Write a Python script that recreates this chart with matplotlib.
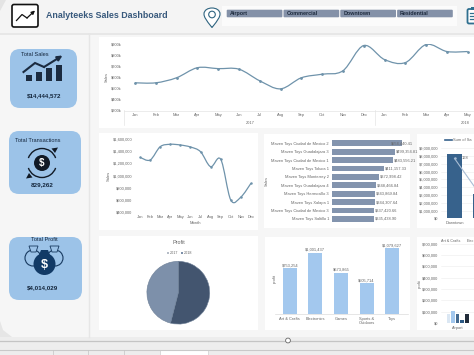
import matplotlib
matplotlib.use('Agg')
import matplotlib.pyplot as plt
from matplotlib.patches import FancyBboxPatch, Rectangle, Circle, Polygon, Arc, PathPatch
from matplotlib.path import Path

W, H = 474, 355
plt.rcParams['font.family'] = ['Liberation Sans', 'DejaVu Sans']

# data
months = ['Jan', 'Feb', 'Mar', 'Apr', 'May', 'Jun', 'Jul', 'Aug', 'Sep', 'Oct', 'Nov', 'Dec']
sales_2017 = [548, 548, 593, 683, 675, 670, 566, 494, 593, 625, 656, 882]
sales_2018 = [756, 729, 891, 828, 828]
sales_ticks = [300, 400, 500, 600, 700, 800, 900]
month_sales = [1300000, 1256000, 1474000, 1513000, 1502000, 1469000, 1392000, 1147000, 1268000, 600000, 650000, 875000]
month_ticks = [400000, 600000, 800000, 1000000, 1200000, 1400000, 1600000]
store_names = ['Maven Toys Ciudad de Mexico 2', 'Maven Toys Guadalajara 3', 'Maven Toys Ciudad de Mexico 1',
               'Maven Toys Toluca 1', 'Maven Toys Monterrey 2', 'Maven Toys Guadalajara 4',
               'Maven Toys Hermosillo 3', 'Maven Toys Xalapa 1', 'Maven Toys Ciudad de Mexico 3', 'Maven Toys Saltillo 1']
store_sales = [554440.41, 499354.81, 483556.21, 411157.33, 372998.42, 348466.84, 343869.84, 344307.64, 337420.66, 335438.90]
location_names = ['Downtown', 'Commercial']
location_sales = [8260000, 3100000]
location_line = [7700000, 3050000]
location_ticks = list(range(0, 9000001, 1000000))
profit_share = [54, 46]
profit_years = ['2017', '2018']
categories = ['Art & Crafts', 'Electronics', 'Games', 'Sports &\nOutdoors', 'Toys']
cat_profit = [753254, 1001437, 673865, 505714, 1079627]
small_bars = [82000, 103000, 76000, 24000, 76000]
small_ticks = [0, 100000, 200000, 300000, 400000, 500000, 600000, 700000]
filters = ['Airport', 'Commercial', 'Downtown', 'Residential']
kpi_titles = ['Total Sales', 'Total Transactions', 'Total Profit']
kpi_values = ['$14,444,572', '829,262', '$4,014,029']

line_col = '#6f93ab'
slate = '#8394ae'
soft_blue = '#a3c8ee'
grey_txt = '#666666'
dark_txt = '#14263c'

fig = plt.figure(figsize=(W / 100, H / 100), dpi=100, facecolor='#f6f6f6')

# whole figure in pixel coords for the furniture
bg = fig.add_axes([0, 0, 1, 1])
bg.set_xlim(0, W)
bg.set_ylim(H, 0)
bg.axis('off')


def panel(x0, y0, x1, y1):
    bg.add_patch(Rectangle((x0, y0), x1 - x0, y1 - y0, fc='white', ec='none'))


def pix_axes(x0, y0, x1, y1):
    ax = fig.add_axes([x0 / W, 1 - y1 / H, (x1 - x0) / W, (y1 - y0) / H])
    ax.patch.set_alpha(0)
    for s in ax.spines.values():
        s.set_visible(False)
    ax.tick_params(length=0, labelsize=2.9, colors=grey_txt, pad=2)
    return ax


def smooth(ax, xs, ys, **kw):
    # excel style smoothed line: bezier through the read values
    verts = [(xs[0], ys[0])]
    codes = [Path.MOVETO]
    n = len(xs)
    for i in range(n - 1):
        p0 = (xs[max(i - 1, 0)], ys[max(i - 1, 0)])
        p1 = (xs[i], ys[i])
        p2 = (xs[i + 1], ys[i + 1])
        p3 = (xs[min(i + 2, n - 1)], ys[min(i + 2, n - 1)])
        verts.append((p1[0] + (p2[0] - p0[0]) / 6, p1[1] + (p2[1] - p0[1]) / 6))
        verts.append((p2[0] - (p3[0] - p1[0]) / 6, p2[1] - (p3[1] - p1[1]) / 6))
        verts.append(p2)
        codes += [Path.CURVE4] * 3
    ax.add_patch(PathPatch(Path(verts, codes), fc='none', **kw))


def zigzag(pts, col, lw, head):
    # icon arrow: polyline plus a triangular tip
    bg.plot([p[0] for p in pts[:-1]], [p[1] for p in pts[:-1]], color=col, lw=lw, solid_joinstyle='miter')
    bg.annotate('', xy=pts[-1], xytext=pts[-2], arrowprops=dict(arrowstyle='-|>', color=col, lw=lw, shrinkA=0,
                shrinkB=0, mutation_scale=head))


# header
bg.add_patch(Rectangle((0, 0), W, 33, fc='#f4f4f4', ec='none'))
bg.add_patch(Polygon([(0, 0), (6, 0), (0, 11)], fc='#e4e4e4', ec='none'))
bg.plot([0, W], [33.5, 33.5], color='#e4e4e4', lw=1.2)
bg.plot([89.5, 89.5], [34, 337], color='#e6e6e6', lw=1)
bg.add_patch(FancyBboxPatch((12, 4.5), 26, 22.5, boxstyle='round,pad=0,rounding_size=2', fc='white', ec='#111111', lw=1.2))
zigzag([(16.5, 20.5), (22, 14.5), (27, 18), (35, 10.5)], '#111111', 0.9, 5)
bg.text(46.5, 16, 'Analyteeks Sales Dashboard', fontsize=6.4, fontweight='bold', color='#38597c', va='center')

# location pin
pin_verts = [(212, 27.5), (206, 20), (204, 17), (204, 14), (204, 10), (208, 8), (212, 8), (216, 8), (220, 10), (220, 14),
             (220, 17), (218, 20), (212, 27.5)]
pin_codes = [Path.MOVETO] + [Path.CURVE4] * 12
bg.add_patch(PathPatch(Path(pin_verts, pin_codes), fc='white', ec='#2f6480', lw=0.8))
bg.add_patch(Circle((212, 14.5), 3.3, fc='white', ec='#2f6480', lw=0.8))

# slicer
bg.add_patch(Rectangle((222, 6), 235, 20, fc='#fbfbfb', ec='none'))
for i, name in enumerate(filters):
    x0 = 226.7 + i * 56.8
    bg.add_patch(FancyBboxPatch((x0, 9.7), 55.7, 7.6, boxstyle='round,pad=0,rounding_size=1', fc='#8491a8', ec='none'))
    bg.text(x0 + 3, 13.5, name, fontsize=3.9, fontweight='bold', color='#1d2a3d', va='center')

# clipboard icon at the right edge
bg.add_patch(FancyBboxPatch((467.5, 9), 12, 14.5, boxstyle='round,pad=0,rounding_size=1.5', fc='white', ec='#2f6f8f', lw=1.3))
bg.add_patch(Rectangle((471, 6.5), 6, 3, fc='#2f6f8f', ec='none'))
for ly in [13, 16, 19]:
    bg.plot([470, 474], [ly, ly], color='#2f6f8f', lw=0.9)

# kpi cards
card_boxes = [(10, 49, 77, 108), (9, 131, 81, 194), (9, 237, 82, 300)]
title_pos = [(35, 54), (37.5, 141), (44, 239.5)]
value_pos = [(44, 96), (42, 185), (43, 288)]
for box, title, tp, value, vp in zip(card_boxes, kpi_titles, title_pos, kpi_values, value_pos):
    bg.add_patch(FancyBboxPatch((box[0], box[1]), box[2] - box[0], box[3] - box[1],
                                boxstyle='round,pad=0,rounding_size=10', fc='#9cc3e8', ec='none'))
    bg.text(vp[0], vp[1], value, fontsize=4.5, fontweight='bold', color=dark_txt, ha='center', va='center')

# card 1 icon
for bx, bw, top in zip([26, 36, 46, 56], [6, 6, 6, 6], [75, 72, 68, 65]):
    bg.add_patch(Rectangle((bx, top), bw, 81 - top, fc='#1b2b40', ec='none'))
zigzag([(23.5, 72), (35, 63), (44, 67), (62.5, 55.5)], '#1b2b40', 1.5, 7)

# card 2 icon
bg.add_patch(Circle((42, 163), 8, fc='#111a26', ec='none'))
bg.add_patch(Arc((42, 163), 29, 29, theta1=200, theta2=340, color='#111a26', lw=1))
bg.add_patch(Arc((42, 163), 29, 29, theta1=20, theta2=160, color='#111a26', lw=1))
bg.add_patch(Polygon([(55, 153), (58, 147.5), (51.5, 148.5)], fc='#111a26', ec='none'))
bg.add_patch(Polygon([(29, 173), (26, 178.5), (32.5, 177.5)], fc='#111a26', ec='none'))
bg.text(42, 163, '$', fontsize=7, fontweight='bold', color='white', ha='center', va='center')

# card 3 icon
bg.add_patch(Circle((33, 258), 8, fc='none', ec='#17395f', lw=0.8))
bg.add_patch(Circle((55, 258), 8, fc='none', ec='#17395f', lw=0.8))
bg.add_patch(Polygon([(29, 246), (38, 246), (36, 252), (31, 252)], fc='#9cc3e8', ec='#17395f', lw=0.6))
bg.add_patch(Polygon([(50, 246), (59, 246), (57, 252), (52, 252)], fc='#9cc3e8', ec='#17395f', lw=0.6))
bg.add_patch(Circle((44.5, 264), 11, fc='#123a66', ec='none'))
bg.add_patch(Polygon([(39, 255), (50, 255), (48, 250), (41, 250)], fc='#123a66', ec='none'))
bg.text(44.5, 265, '$', fontsize=9, fontweight='bold', color='white', ha='center', va='center')

# card titles go over the icons
for title, tp in zip(kpi_titles, title_pos):
    bg.text(tp[0], tp[1], title, fontsize=4.1, color=dark_txt, ha='center', va='center', zorder=6)

# panels
panel(99, 37, W, 128)
panel(99, 133, 258, 230)
panel(264, 134, 410, 228)
panel(417, 134, W, 228)
panel(99, 236, 258, 330)
panel(265, 236.5, 410, 329.5)
panel(417, 236.5, W, 329.5)

# top line chart
ax = pix_axes(124.5, 43.5, W, 110.5)
all_sales = sales_2017 + sales_2018
xs = list(range(len(all_sales)))
ax.set_xlim(-0.5, 16.3)
ax.set_ylim(300, 900)
smooth(ax, xs, all_sales, ec=line_col, lw=0.9)
ax.plot(xs, all_sales, ls='none', marker='o', ms=1.0, color=line_col)
ax.set_yticks(sales_ticks)
ax.set_yticklabels(['${}k'.format(v) for v in sales_ticks])
ax.set_xticks(xs)
ax.set_xticklabels((months + months)[:len(xs)])
ax.set_ylabel('Sales', fontsize=2.9, color=grey_txt, labelpad=1.5)
bg.plot([124.5, W], [110.5, 110.5], color='#e4e4e4', lw=0.5)
bg.plot([124.5, 124.5], [110, 125], color='#e4e4e4', lw=0.5)
bg.plot([375, 375], [110, 125], color='#e4e4e4', lw=0.5)
bg.text(250, 123, '2017', fontsize=2.9, color=grey_txt, ha='center', va='center')
bg.text(465, 123, '2018', fontsize=2.9, color=grey_txt, ha='center', va='center')

# month line chart
ax = pix_axes(135, 139, 256, 212.3)
xs = list(range(12))
ax.set_xlim(-0.5, 11.5)
ax.set_ylim(400000, 1600000)
smooth(ax, xs, month_sales, ec=line_col, lw=0.9)
ax.plot(xs, month_sales, ls='none', marker='o', ms=0.8, color=line_col)
ax.set_yticks(month_ticks)
ax.set_yticklabels(['${:,}'.format(v) for v in month_ticks])
ax.set_xticks(xs)
ax.set_xticklabels(months)
ax.set_xlabel('Month', fontsize=3, color=grey_txt, labelpad=1.5)
ax.set_ylabel('Sales', fontsize=3, color=grey_txt, labelpad=1.5)

# store bars
ax = pix_axes(331.7, 139.1, 404, 223.2)
ypos = list(range(len(store_names)))
ax.barh(ypos, store_sales, height=0.68, color=slate)
ax.set_xlim(0, 571000)
ax.set_ylim(9.5, -0.5)
ax.set_yticks(ypos)
ax.set_yticklabels(store_names)
ax.set_xticks([])
ax.set_ylabel('Sales', fontsize=2.9, color=grey_txt, labelpad=2)
for i, (y, v) in enumerate(zip(ypos, store_sales)):
    # the longest bar has its label running over the bar end
    lx = v - 90000 if i == 0 else v + 6000
    ax.text(lx, y, '${:,.2f}'.format(v), fontsize=2.9, color=grey_txt, va='center', clip_on=False)

# location bar + line (cut off by the frame)
ax = pix_axes(441, 148.3, 474, 218.3)
ax.bar([0, 1], location_sales, width=0.565, color='#37628c')
ax.plot([0, 1], location_line, color='#a9bdd4', lw=0.8, marker='o', ms=0.8)
ax.set_xlim(-0.53, 0.765)
ax.set_ylim(0, 9000000)
ax.set_yticks(location_ticks)
ax.set_yticklabels(['${:,}'.format(v) for v in location_ticks])
ax.set_xticks([0])
ax.set_xticklabels(location_names[:1])
ax.grid(axis='y', color='#ededed', lw=0.4)
ax.set_axisbelow(True)
ax.text(0.42, 7700000, '168', fontsize=2.9, color=grey_txt, va='center', ha='center')
bg.plot([445, 452], [140, 140], color='#37628c', lw=1.2)
bg.text(453, 140, 'Sum of Sa', fontsize=2.9, color=grey_txt, va='center')

# pie
ax = pix_axes(146.6, 261, 210, 324.4)
ax.pie(profit_share, colors=['#43556f', '#7d90aa'], startangle=90, counterclock=False, radius=1,
       wedgeprops=dict(ec='#6d7f96', lw=0.4))
ax.set_xlim(-1.01, 1.01)
ax.set_ylim(-1.01, 1.01)
bg.text(178.5, 242.5, 'Profit', fontsize=3.9, color=grey_txt, ha='center', va='center')
bg.add_patch(Circle((168, 253), 0.7, fc='#43556f'))
bg.text(169.5, 253, profit_years[0], fontsize=2.7, color=grey_txt, va='center')
bg.add_patch(Rectangle((181, 252.2), 1.6, 1.6, fc='#7d90aa'))
bg.text(183.5, 253, profit_years[1], fontsize=2.7, color=grey_txt, va='center')

# category bars
ax = pix_axes(277, 243, 405, 314)
xs = list(range(len(categories)))
ax.bar(xs, cat_profit, width=0.55, color=soft_blue)
ax.set_xlim(-0.5, 4.5)
ax.set_ylim(0, 1167000)
ax.set_xticks(xs)
ax.set_xticklabels(categories)
ax.set_yticks([])
ax.set_ylabel('profit', fontsize=3, color=grey_txt, labelpad=0)
bg.plot([275, 408], [314, 314], color='#dcdcdc', lw=0.5)
for x, v in zip(xs, cat_profit):
    ax.text(x, v + 18000, '${:,}'.format(v), fontsize=2.9, color=grey_txt, ha='center', va='bottom')

# small clustered bars
ax = pix_axes(441, 243.7, 474, 323)
ax.bar(range(5), small_bars, width=0.8, color=['#dbe7f3', '#a3c8ee', '#43698f', '#2c5a85', '#222c3a'])
ax.set_xlim(-1.6, 5.56)
ax.set_ylim(0, 700000)
ax.set_yticks(small_ticks)
ax.set_yticklabels(['${:,}'.format(v) for v in small_ticks])
ax.set_xticks([2])
ax.set_xticklabels(['Airport'])
ax.grid(axis='y', color='#ededed', lw=0.4)
ax.set_axisbelow(True)
ax.set_ylabel('profit', fontsize=2.9, color=grey_txt, labelpad=0.5)
bg.text(441.5, 241, 'Art & Crafts', fontsize=2.7, color=grey_txt, va='center')
bg.text(466.5, 241, 'Elec', fontsize=2.7, color=grey_txt, va='center')

# excel window bottom
bg.add_patch(Polygon([(0, 321), (3, 330), (12, 337), (0, 337)], fc='#e6e6e6', ec='none'))
bg.add_patch(Rectangle((0, 337), W, 18, fc='#ededed', ec='none'))
bg.plot([0, W], [340.5, 340.5], color='#c4c4c4', lw=0.9)
bg.plot([0, W], [350.3, 350.3], color='#c9c9c9', lw=0.8)
bg.add_patch(Circle((288, 340.5), 2.4, fc='white', ec='#666666', lw=0.6, zorder=5))
bg.add_patch(Rectangle((160, 350), 48, 5, fc='white', ec='#c4c4c4', lw=0.4))
for tx in [53, 88, 124]:
    bg.plot([tx, tx], [350, 355], color='#c4c4c4', lw=0.5)

fig.savefig('out.png', dpi=100, facecolor=fig.get_facecolor())
